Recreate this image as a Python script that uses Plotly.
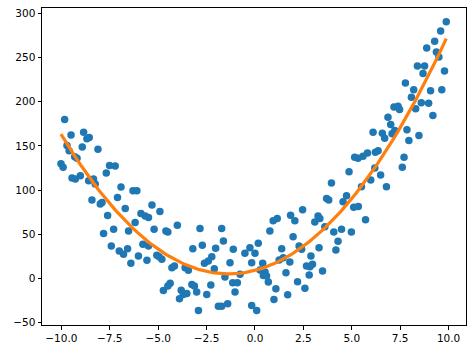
import numpy as np
import plotly.graph_objects as go

x_vals = [-9.83, -9.50, -8.85, -8.56, -8.68, -9.71, -9.60, -8.92, -8.11, -9.31, -9.19, -10.02, -9.91, -7.51, -7.22,
          -9.45, -9.28, -9.02, -8.59, -8.34, -8.25, -7.68, -6.92, -6.30, -6.10, -8.42, -7.99, -7.90, -7.10, -6.70,
          -7.61, -5.89, -5.67, -5.50, -6.19, -7.30, -7.82, -6.53, -5.79, -5.50, -7.42, -7.01, -6.79, -6.58, -6.02,
          -5.58, -6.41,
          -5.32, -4.91, -5.21, -4.60, -4.50, -4.01, -2.84, -1.72, -1.63, -5.07, -4.95, -4.81, -3.21, -2.72, -2.03,
          -1.12, -0.52, -2.23, -2.41, -2.61, -4.16, -4.29, -3.61, -3.44, -1.29, -2.10, -0.77, -1.55, -4.38, -4.50,
          -4.73, -3.26, -3.13, -3.01, -3.81, -3.70, -3.52, -2.28, -2.49, -1.15, -0.91, -1.03, -3.90, -2.92, -1.89,
          -1.72, -1.41,
          4.86, 3.95, 3.70, 3.81, 4.73, 4.55, 5.10, 5.34, 2.46, 1.84, 2.06, 3.26, 3.09, 3.35, 0.94, 1.15, 0.77,
          3.61, 4.07, 4.47, 4.98, 1.97, 4.29, 4.18, 0.17, -0.26, 0.00, 2.28, 2.41, 1.38, 3.31, 2.89, 1.25, 1.46,
          1.80, -0.17, 0.40, 2.66, 2.97, 2.84, 0.26, 0.52, 0.43, 0.60, 1.60, 3.49, 2.80, 0.69, 2.20, 2.58, 1.08,
          1.69, 0.98, -0.17, 0.09,
          9.88, 9.59, 9.28, 8.87, 9.37, 9.50, 8.39, 8.76, 9.79, 8.68, 7.77, 8.20, 9.07, 9.65, 8.08, 8.59, 8.97,
          7.18, 7.39, 7.47, 8.30, 9.19, 6.87, 7.01, 7.22, 7.08, 7.85, 6.10, 6.58, 6.70, 8.47, 7.95, 6.36, 6.22,
          5.81, 5.58, 5.32, 5.15, 7.70, 7.61, 6.19, 6.49, 5.98, 6.79, 5.50, 5.71]

y_vals = [180, 162.5, 165.5, 159.5, 158, 150.4, 144.7, 148.9, 146.2, 137.9, 136, 130, 125.8, 128, 127.4,
          113.7, 112.6, 116.3, 110.7, 112.6, 106.9, 119.4, 103.5, 99.3, 99.3, 88.8, 84.2, 86, 91.7, 79.2,
          71.3, 73.6, 70.9, 69, 63.3, 55.8, 50.9, 53.9, 38.8, 36.9, 36.9, 31.2, 27.5, 33.8, 25.5,
          20.7, 17.3,
          83.1, 75.8, 55.8, 53.9, 52.8, 60.4, 56.5, 56.5, 42.6, 26.3, 24.7, 21.8, 33.8, 37.7, 34.3,
          33.1, 28.6, 24.7, 19.9, 17.3, 14.2, 12.3, 12.3, 9.3, 17.9, 11.1, 4.8, 1.7, -5.4, -8.5,
          -13.4, -6.6, -8.5, -15.3, -13.1, -17.9, -16.8, -7.4, -17.9, -4.8, -4.8, -15.3, -22.9, -36.1, -31.2,
          -31.2, -28.6,
          120.9, 108.1, 90.6, 88.8, 93.6, 86.8, 80.6, 81.5, 77.8, 71.7, 65.3, 70.9, 64.1, 67.9, 65.3, 67.9, 53.9,
          58.5, 52.8, 55.8, 52.8, 47.4, 42.2, 32.3, 40, 35, 28.6, 36.9, 33.1, 33.8, 35, 25.5, 21, 23.6,
          18.7, 17.9, 17.3, 14.2, 16.1, 13.4, 9.6, 7.4, 3.6, 2.8, 6.6, 8.5, 4, -4, -3.6, -10.8, -11.6,
          -18.4, -23.6, -30.4, -36.1,
          290.4, 280.1, 268.4, 260.8, 256.3, 250.6, 240.4, 240.4, 234.7, 231.8, 221.1, 213.6, 212.5, 213.6, 205.2, 198.9, 198.4,
          193.9, 195, 191.3, 192.1, 184.5, 182.5, 174.2, 167.4, 163.7, 168.2, 165.5, 164.4, 158.7, 161.7, 156.1, 144.7, 142.8,
          142.1, 138.3, 136, 137.1, 137.1, 125.8, 125.1, 117.1, 111.5, 103.9, 103.9, 66.4]

x_arr = np.array(x_vals)
y_arr = np.array(y_vals)
coef = np.polyfit(x_arr, y_arr, 2)
x_line = np.sort(x_arr)
y_line = np.polyval(coef, x_line)

fig = go.Figure()
fig.add_trace(go.Scatter(x=x_vals, y=y_vals, mode="markers",
                         marker=dict(color="#1f77b4", size=7.5, line=dict(width=0)),
                         showlegend=False, hoverinfo="skip"))
fig.add_trace(go.Scatter(x=x_line, y=y_line, mode="lines",
                         line=dict(color="#ff7f0e", width=3.2),
                         showlegend=False, hoverinfo="skip"))

axis_common = dict(showgrid=False, zeroline=False, showline=True, linecolor="black", linewidth=1,
                   mirror=True, ticks="outside", ticklen=3.5, tickwidth=0.8, tickcolor="black",
                   tickfont=dict(family="DejaVu Sans", size=10.5, color="black"))

fig.update_layout(
    width=474, height=353,
    margin=dict(l=42, r=8, t=8, b=28),
    paper_bgcolor="white", plot_bgcolor="white",
    xaxis=dict(range=[-11, 10.9], tickvals=[-10, -7.5, -5, -2.5, 0, 2.5, 5, 7.5, 10],
               ticktext=["−10.0", "−7.5", "−5.0", "−2.5", "0.0", "2.5", "5.0", "7.5", "10.0"], **axis_common),
    yaxis=dict(range=[-52.5, 306], tickvals=[-50, 0, 50, 100, 150, 200, 250, 300],
               ticktext=["−50", "0", "50", "100", "150", "200", "250", "300"], **axis_common),
)

fig.write_html("out.html")
